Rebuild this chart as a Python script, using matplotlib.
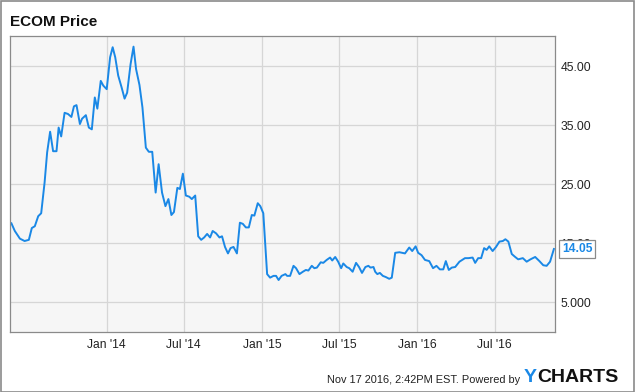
import matplotlib
matplotlib.use("Agg")
import matplotlib.pyplot as plt
from matplotlib.patches import Rectangle
import pandas as pd

plt.rcParams['font.family'] = ['Liberation Sans', 'DejaVu Sans']

# days since 2014-01-01 and closing price
days = [-224, -216, -204, -193, -183, -176, -169, -161, -154, -146, -140, -133,
        -126, -118, -113, -107, -99, -91, -83, -77, -71, -63, -58, -49, -42,
        -35, -28, -22, -14, -8, 0, 8, 14, 20, 27, 35, 42, 48, 56, 63, 69, 77,
        84, 92, 99, 107, 115, 122, 130, 138, 145, 152, 158, 166, 172, 179, 186,
        194, 200, 208, 215, 222, 229, 236, 243, 249, 257, 265, 271, 278, 285,
        291, 298, 306, 313, 320, 327, 334, 341, 347, 355, 361, 368, 377, 384,
        392, 398, 404, 411, 420, 424, 431, 439, 445, 453, 461, 468, 474, 482,
        488, 494, 503, 509, 517, 525, 530, 537, 544, 551, 556, 564, 570, 578,
        586, 593, 600, 608, 615, 620, 627, 631, 636, 642, 649, 656, 664, 670,
        678, 688, 701, 711, 718, 726, 732, 740, 748, 758, 767, 775, 783, 791,
        797, 804, 811, 819, 829, 842, 850, 860, 866, 873, 880, 887, 893, 899,
        907, 915, 923, 931, 937, 944, 952, 960, 967, 978, 987, 996, 1007, 1017,
        1026, 1034, 1042, 1051]
price = [18.4, 17.1, 15.8, 15.4, 15.6, 17.6, 17.9, 19.6, 20.1, 25.3, 30.4, 33.9,
         30.6, 30.6, 34.6, 33.1, 37.1, 36.9, 36.4, 38.2, 38.4, 35.2, 36.1, 36.7, 34.6,
         34.3, 39.7, 37.8, 42.5, 41.7, 41.1, 46.5, 48.2, 46.5, 43.4, 41.4, 39.5, 40.5,
         45.3, 48.3, 44.5, 41.8,
         38.0, 31.2, 30.5, 30.5, 23.6, 28.4, 23.6, 21.3, 22.5, 19.8, 20.3, 24.4, 24.2,
         26.8, 23.1,
         22.9, 22.5, 23.1, 16.2, 15.6, 16.0, 16.6, 16.0, 17.1, 16.7, 16.0, 16.2, 14.4,
         13.3,
         14.2, 14.4, 13.3, 18.5, 18.3, 17.7, 17.7, 19.8, 19.7, 21.8, 21.3, 20.1, 9.8, 9.2,
         9.5, 9.5, 8.8, 9.5, 9.8, 9.5, 9.5, 11.2, 10.8, 9.8, 10.2, 10.5, 10.4, 11.2,
         10.8, 10.9, 11.8, 11.7, 12.2, 12.6, 12.1, 12.7, 11.9, 10.8, 11.6, 11.0, 10.8, 10.2,
         11.7, 11.0, 10.0, 11.0, 11.2, 10.9, 11.0, 10.2, 9.8, 10.0, 9.5, 9.3, 9.0, 9.2,
         13.4, 13.5, 13.3, 14.3, 13.7, 14.5, 13.4, 13.0, 12.2, 12.0, 10.8, 11.2, 10.6, 10.6,
         12.0, 10.5, 10.9, 11.0, 11.9, 12.5, 12.5, 12.6, 11.7, 12.5, 12.5, 14.2, 13.9, 14.5,
         13.7, 14.4, 15.3, 15.4, 15.7, 15.3, 13.2, 12.7, 12.3, 12.5, 11.9, 12.3, 12.7, 12.0,
         11.3, 11.2, 11.9, 14.05]

y_ticks = [5, 15, 25, 35, 45]
y_labels = ["5.000", "15.00", "25.00", "35.00", "45.00"]
x_ticks = ["2014-01-01", "2014-07-01", "2015-01-01", "2015-07-01", "2016-01-01", "2016-07-01"]
x_labels = ["Jan '14", "Jul '14", "Jan '15", "Jul '15", "Jan '16", "Jul '16"]

base = pd.Timestamp("2014-01-01")
dates = base + pd.to_timedelta(days, unit="D")

W, H = 635, 392
fig = plt.figure(figsize=(W / 100, H / 100), dpi=100)
ax = fig.add_axes([10 / W, 1 - 332 / H, 545 / W, 296 / H])
ax.set_facecolor("#f6f6f6")

blue = "#1a88e6"
ax.plot(dates, price, color=blue, linewidth=1.4)

ax.set_ylim(0, 50.1)
ax.set_xlim(base + pd.Timedelta(days=-227.3), base + pd.Timedelta(days=1053.6))

ax.yaxis.tick_right()
ax.set_yticks(y_ticks)
ax.set_yticklabels(y_labels)
ax.set_xticks(pd.to_datetime(x_ticks))
ax.set_xticklabels(x_labels)
ax.tick_params(axis="both", length=0, labelsize=8.7, colors="#222222")
ax.tick_params(axis="y", pad=4)
ax.tick_params(axis="x", pad=5)
ax.grid(True, color="#d6d6d6", linewidth=0.9)
ax.set_axisbelow(True)
for s in ax.spines.values():
    s.set_color("#8a8a8a")
    s.set_linewidth(0.9)

# last price callout, sits over the 15.00 label like the original
ax.annotate(f"{price[-1]:.2f}", xy=(1, price[-1]), xycoords=("axes fraction", "data"),
            xytext=(5, 0), textcoords="offset points", va="center", ha="left",
            color=blue, fontsize=8.7, fontweight="bold", zorder=10,
            bbox=dict(boxstyle="square,pad=0.25", fc="white", ec="#8a8a8a", lw=0.9))

fig.text(10 / W, 1 - 22 / H, "ECOM Price", fontsize=11, fontweight="bold",
         va="center", ha="left", color="#111111")

fig.text(520 / W, 1 - 380 / H, "Nov 17 2016, 2:42PM EST. Powered by", fontsize=7.9,
         va="center", ha="right", color="#222222")
fig.text(524 / W, 1 - 378 / H, "Y", fontsize=14, fontweight="bold",
         va="center", ha="left", color=blue)
fig.text(537.5 / W, 1 - 378 / H, "CHARTS", fontsize=14, fontweight="bold",
         va="center", ha="left", color="#111111")

fig.patches.append(Rectangle((0.5 / W, 0.5 / H), 1 - 1.5 / W, 1 - 1.5 / H,
                             transform=fig.transFigure, fill=False,
                             edgecolor="#8a8a8a", linewidth=1.2))

fig.savefig("out.png", dpi=100)
